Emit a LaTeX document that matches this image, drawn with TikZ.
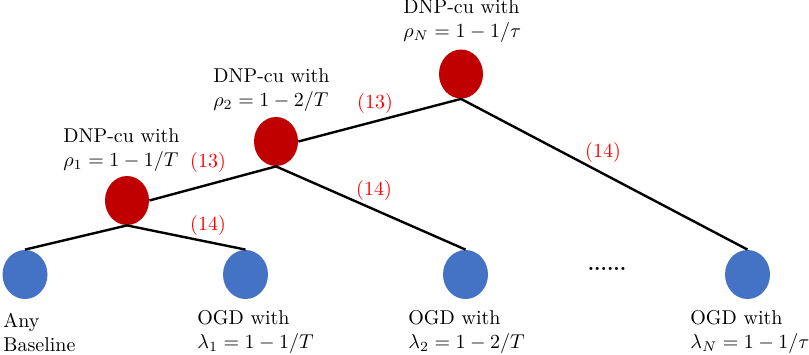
\documentclass[tikz,border=0pt]{standalone}
\usetikzlibrary{shapes.geometric}
\definecolor{dnpred}{HTML}{C00000}
\definecolor{ogdblue}{HTML}{4472C4}
\begin{document}
\begin{tikzpicture}[x=0.5pt,y=-0.5pt,
  rednode/.style={ellipse,fill=dnpred,inner sep=0pt,minimum width=22pt,minimum height=24.5pt},
  bluenode/.style={ellipse,fill=ogdblue,inner sep=0pt,minimum width=22.5pt,minimum height=24.5pt},
  lbl/.style={align=left,anchor=west,inner sep=0pt},
  eqlbl/.style={text=red,inner sep=0pt},
  edge/.style={line width=1.2pt}]
\useasboundingbox (0,0) rectangle (809,354);
\node[rednode] (r1) at (127,200.5) {};
\node[rednode] (r2) at (276,141.5) {};
\node[rednode] (r3) at (461,74) {};
\node[bluenode] (b0) at (25,274.5) {};
\node[bluenode] (b1) at (245.5,274.5) {};
\node[bluenode] (b2) at (465.5,274.5) {};
\node[bluenode] (bn) at (747.5,274.5) {};
\draw[edge] (r1.south) -- (b0.north);
\draw[edge] (r1.south) -- (b1.north);
\draw[edge] (r1.east) -- (r2.south);
\draw[edge] (r2.south) -- (b2.north);
\draw[edge] (r2.east) -- (r3.south);
\draw[edge] (r3.south) -- (bn.north);
\node[lbl] (t1) at (63,150) {DNP-cu with\\$\rho_1=1-1/T$};
\node[lbl] (t2) at (213,90) {DNP-cu with\\$\rho_2=1-2/T$};
\node[lbl] (t3) at (403,21) {DNP-cu with\\$\rho_N=1-1/\tau$};
\node[lbl] (t4) at (3,332) {Any\\Baseline};
\node[lbl] (t5) at (197,332) {OGD with\\$\lambda_1=1-1/T$};
\node[lbl] (t6) at (408,332) {OGD with\\$\lambda_2=1-2/T$};
\node[lbl] (t7) at (690,332) {OGD with\\$\lambda_N=1-1/\tau$};
\node[eqlbl] (e1) at (208,162) {(13)};
\node[eqlbl] (e2) at (208,225) {(14)};
\node[eqlbl] (e3) at (375,103) {(13)};
\node[eqlbl] (e4) at (374,190) {(14)};
\node[eqlbl] (e5) at (603,152) {(14)};
\node[inner sep=0pt] (dots) at (607,269) {\textbf{......}};
\end{tikzpicture}
\end{document}
